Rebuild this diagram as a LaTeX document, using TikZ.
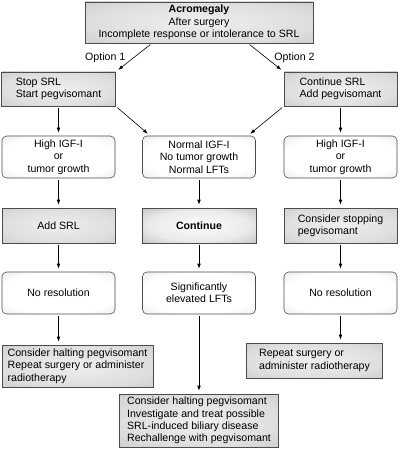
\documentclass[tikz,border=0pt]{standalone}
\usepackage{fontspec}
\setmainfont{Liberation Sans}
\usetikzlibrary{arrows.meta}
\pgfdeclareradialshading{grayglow}{\pgfpoint{0bp}{0bp}}{color(0bp)=(gray!13); color(25bp)=(gray!26); color(45bp)=(gray!48); color(70bp)=(gray!55)}
\pgfdeclareradialshading{whiteglow}{\pgfpoint{0bp}{0bp}}{color(0bp)=(white); color(25bp)=(white); color(45bp)=(gray!27); color(70bp)=(gray!35)}
\pgfdeclareradialshading{darkglow}{\pgfpoint{0bp}{0bp}}{color(0bp)=(gray!3); color(22bp)=(gray!16); color(45bp)=(gray!66); color(70bp)=(gray!76)}
\begin{document}
\begin{tikzpicture}[x=1pt,y=-1pt,>={Latex[length=5pt,width=3.6pt]},
    every node/.style={font=\fontsize{10.6}{12.3}\selectfont},
    graybox/.style={draw=black!70,line width=0.6pt,shade,shading=grayglow,align=left,inner sep=3pt},
    roundbox/.style={draw=black!70,line width=0.6pt,rounded corners=4.5pt,shade,shading=whiteglow,align=center,minimum width=113pt,minimum height=42pt},
    link/.style={->,line width=0.6pt,shorten <=2pt,shorten >=3pt}]
    \useasboundingbox (0,0) rectangle (400,449);
    \node[graybox,align=center,minimum width=228pt,minimum height=41pt] (acro) at (199,22.5) {\textbf{Acromegaly}\\After surgery\\Incomplete response or intolerance to SRL};
    \node[graybox,minimum width=114pt,minimum height=34pt] (stop) at (58.5,89) {Stop SRL\\Start pegvisomant};
    \node[graybox,minimum width=113pt,minimum height=34pt] (addpeg) at (340.5,89) {Continue SRL\\Add pegvisomant};
    \node[roundbox] (highl) at (58.5,157) {High IGF-I\\or\\tumor growth};
    \node[roundbox] (normal) at (199,157) {Normal IGF-I\\No tumor growth\\Normal LFTs};
    \node[roundbox] (highr) at (340.5,157) {High IGF-I\\or\\tumor growth};
    \node[graybox,align=center,minimum width=113pt,minimum height=35pt] (addsrl) at (58.5,225.5) {Add SRL};
    \node[graybox,align=center,minimum width=114pt,minimum height=35pt,shading=darkglow] (cont) at (199,225.5) {\textbf{Continue}};
    \node[graybox,minimum width=113pt,minimum height=35pt] (stoppeg) at (340.5,225.5) {Consider stopping\\pegvisomant};
    \node[roundbox] (noresl) at (58.5,293) {No resolution};
    \node[roundbox] (lfts) at (199,293) {Significantly\\elevated LFTs};
    \node[roundbox] (noresr) at (340.5,293) {No resolution};
    \node[graybox,minimum width=151pt,minimum height=42pt] (haltl) at (77.5,366) {Consider halting pegvisomant\\Repeat surgery or administer\\radiotherapy};
    \node[graybox,minimum width=136pt,minimum height=35pt] (repeat) at (314.5,360.5) {Repeat surgery or\\administer radiotherapy};
    \node[graybox,minimum width=159pt,minimum height=53pt] (biliary) at (199,420.5) {Consider halting pegvisomant\\Investigate and treat possible\\SRL-induced biliary disease\\Rechallenge with pegvisomant};
    \draw[link] ([xshift=-47pt]acro.south) -- node[left=5pt] (opt1) {Option 1} (stop.north east);
    \draw[link] ([xshift=49pt]acro.south) -- node[right=5pt] (opt2) {Option 2} (addpeg.north west);
    \draw[link] (stop.south east) -- ([xshift=8pt]normal.north west);
    \draw[link] (addpeg.south west) -- ([xshift=-8pt]normal.north east);
    \foreach \a/\b in {stop/highl,highl/addsrl,addsrl/noresl,normal/cont,cont/lfts,lfts/biliary,addpeg/highr,highr/stoppeg,stoppeg/noresr}
      {\draw[link] (\a) -- (\b);}
    \draw[link] (noresl.south) -- (noresl.south |- haltl.north);
    \draw[link] (noresr.south) -- (noresr.south |- repeat.north);
\end{tikzpicture}
\end{document}
